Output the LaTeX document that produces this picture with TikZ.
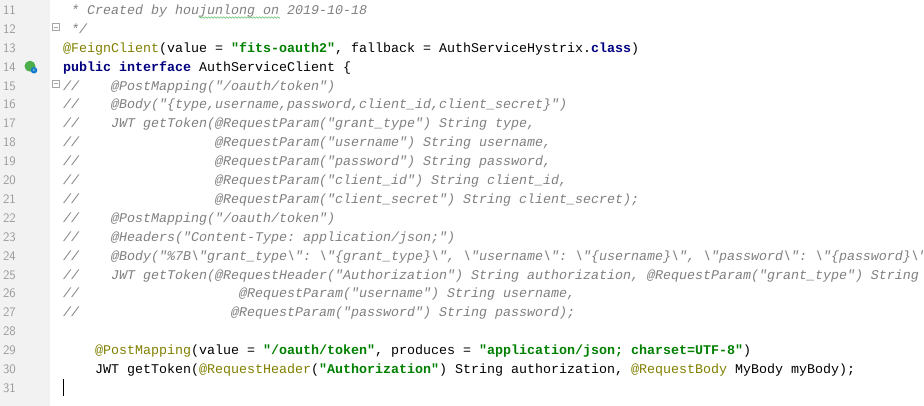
\documentclass[tikz,border=0pt]{standalone}
\usepackage{fontspec}
\usetikzlibrary{decorations.pathmorphing}
\setmonofont{Liberation Mono}
\definecolor{cmt}{HTML}{808080}
\definecolor{ann}{HTML}{808000}
\definecolor{str}{HTML}{008000}
\definecolor{kw}{HTML}{000080}
\definecolor{gut}{HTML}{F2F2F2}
\newcommand{\K}[1]{\textcolor{kw}{\bfseries #1}}
\newcommand{\A}[1]{\textcolor{ann}{#1}}
\newcommand{\Sq}[1]{\textcolor{str}{\bfseries #1}}
\newcommand{\bs}{\textbackslash}
\newcommand{\Yl}[1]{(14.5+(#1-11)*18.9)}
\tikzset{
  code/.style={anchor=base west,inner sep=0pt,font=\ttfamily\fontsize{13.33}{16}\selectfont},
  cmtline/.style={code,text=cmt,font=\ttfamily\itshape\fontsize{13.33}{16}\selectfont},
  num/.style={anchor=base east,inner sep=0pt,text=cmt!80,font=\sffamily\fontsize{13}{16}\selectfont}
}
\begin{document}
\begin{tikzpicture}[x=1pt,y=-1pt]
\useasboundingbox (0,0) rectangle (924,406);
\clip (0,0) rectangle (924,406);
\fill[white] (0,0) rectangle (924,406);
\fill[gut] (0,0) rectangle (50,406);
\foreach \n [count=\i from 0] in {11,...,31}{
  \node[num] (n\n) at (16,{14.5+\i*18.9}) {\n};
}
% icon
\fill[green!55!black!70] (30,{14.5+3*18.9-5}) circle (5.5);
\fill[cyan!60!blue] (34,{14.5+3*18.9-1}) circle (3.3);
\node[inner sep=0pt,text=white,font=\sffamily\fontsize{5}{5}\selectfont] (ic) at (34,{14.5+3*18.9-1}) {c};
% fold markers
\foreach \r in {1,4}{
  \draw[gray!70] (52,{14.5+\r*18.9-10}) rectangle (59,{14.5+\r*18.9-3});
  \draw[gray!70] (53.5,{14.5+\r*18.9-6.5}) -- (57.5,{14.5+\r*18.9-6.5});
}
\def\X{63}
\node[cmtline] (l11) at (\X,{\Yl{11}}) {~* Created by houjunlong on 2019-10-18};
\draw[green!60!black!60,decorate,decoration={zigzag,amplitude=0.8pt,segment length=3pt}] (199,17.5) -- (280,17.5);
\node[cmtline] (l12) at (\X,{\Yl{12}}) {~*/};
\node[code] (l13) at (\X,{\Yl{13}}) {\A{@FeignClient}(value = \Sq{"fits-oauth2"}, fallback = AuthServiceHystrix.\K{class})};
\node[code] (l14) at (\X,{\Yl{14}}) {\K{public interface} AuthServiceClient \{};
\node[cmtline] (l15) at (\X,{\Yl{15}}) {//~~~~@PostMapping("/oauth/token")};
\node[cmtline] (l16) at (\X,{\Yl{16}}) {//~~~~@Body("\{type,username,password,client\_id,client\_secret\}")};
\node[cmtline] (l17) at (\X,{\Yl{17}}) {//~~~~JWT getToken(@RequestParam("grant\_type") String type,};
\node[cmtline] (l18) at (\X,{\Yl{18}}) {//~~~~~~~~~~~~~~~~~@RequestParam("username") String username,};
\node[cmtline] (l19) at (\X,{\Yl{19}}) {//~~~~~~~~~~~~~~~~~@RequestParam("password") String password,};
\node[cmtline] (l20) at (\X,{\Yl{20}}) {//~~~~~~~~~~~~~~~~~@RequestParam("client\_id") String client\_id,};
\node[cmtline] (l21) at (\X,{\Yl{21}}) {//~~~~~~~~~~~~~~~~~@RequestParam("client\_secret") String client\_secret);};
\node[cmtline] (l22) at (\X,{\Yl{22}}) {//~~~~@PostMapping("/oauth/token")};
\node[cmtline] (l23) at (\X,{\Yl{23}}) {//~~~~@Headers("Content-Type: application/json;")};
\node[cmtline] (l24) at (\X,{\Yl{24}}) {//~~~~@Body("\%7B\bs"grant\_type\bs": \bs"\{grant\_type\}\bs", \bs"username\bs": \bs"\{username\}\bs", \bs"password\bs": \bs"\{password\}\bs"\%7D")};
\node[cmtline] (l25) at (\X,{\Yl{25}}) {//~~~~JWT getToken(@RequestHeader("Authorization") String authorization, @RequestParam("grant\_type") String type,};
\node[cmtline] (l26) at (\X,{\Yl{26}}) {//~~~~~~~~~~~~~~~~~~~~@RequestParam("username") String username,};
\node[cmtline] (l27) at (\X,{\Yl{27}}) {//~~~~~~~~~~~~~~~~~~~@RequestParam("password") String password);};
\node[code] (l29) at (\X,{\Yl{29}}) {~~~~\A{@PostMapping}(value = \Sq{"/oauth/token"}, produces = \Sq{"application/json; charset=UTF-8"})};
\node[code] (l30) at (\X,{\Yl{30}}) {~~~~JWT getToken(\A{@RequestHeader}(\Sq{"Authorization"}) String authorization, \A{@RequestBody} MyBody myBody);};
\coordinate (c1) at (63.5,379);
\coordinate (c2) at (63.5,396);
\draw[line width=1.5pt] (c1) -- (c2);
\end{tikzpicture}
\end{document}
